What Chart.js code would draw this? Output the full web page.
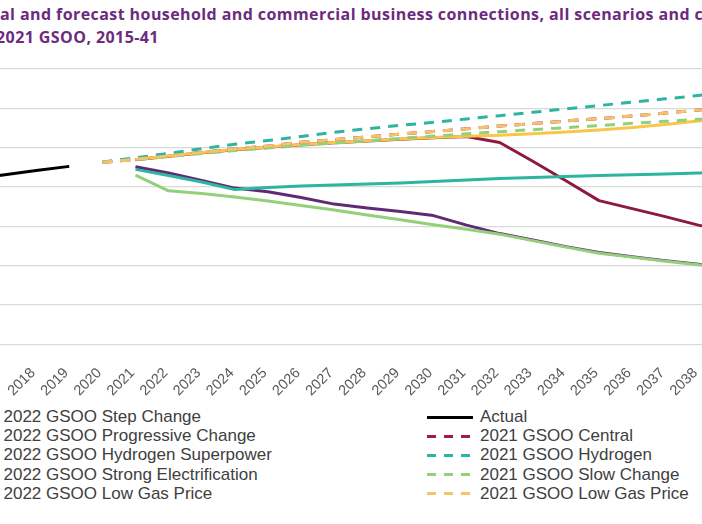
<!DOCTYPE html>
<html><head><meta charset="utf-8">
<script src="https://cdn.jsdelivr.net/npm/chart.js@4.4.1/dist/chart.umd.min.js"></script>
<style>
html,body{margin:0;padding:0;width:702px;height:524px;overflow:hidden;background:#fff;}
body{position:relative;}
.title{position:absolute;white-space:nowrap;font-family:"Open Sans",sans-serif;font-weight:700;font-size:16px;line-height:23px;color:#6C2B7E;}
#wrap{position:absolute;left:-150px;top:0;width:980px;height:405px;}
.item{position:absolute;font-family:"Liberation Sans",Arial,sans-serif;font-size:17px;line-height:20px;color:#404040;white-space:nowrap;}
.mk{position:absolute;height:3px;width:46px;}
</style></head>
<body>
<div class="title" id="t1" style="top:3px;left:0"><span id="hid">Actu</span><span id="vis">al and forecast household and commercial business connections, all scenarios and</span> compared to</div>
<div class="title" id="t2" style="top:26px;left:-4px"><span id="vis2">2021 GSOO, 2015-41</span></div>
<div id="wrap"><canvas id="c"></canvas></div>
<div id="legend"></div>
<script>
// Category labels
const years = ['2015','2016','2017','2018','2019','2020','2021','2022','2023','2024','2025','2026','2027','2028','2029','2030','2031','2032','2033','2034','2035','2036','2037','2038','2039','2040','2041'];
// Values in thousands of connections
const actual = [4100,4200,4305,4419,4526];               // 2015-2019
const step2022 = [4516,4356,4165,3974,3880,3733,3567,3466,3377,3275,3034,2818,2653,2487,2335,2232,2131,2042,1953,1876,1800]; // 2021-2041
const progressive2022 = [4694,4783,4872,4948,5012,5075,5126,5172,5215,5253,5283,5131,4655,4160,3656,3453,3249,3033,2855,2703,2550];
const hydrogenSuper2022 = [4449,4292,4127,3936,3987,4025,4050,4076,4101,4139,4177,4216,4241,4266,4292,4310,4330,4355,4373,4391,4406];
const strongElec2022 = [4304,3905,3834,3745,3644,3529,3415,3293,3168,3043,2927,2804,2639,2474,2321,2220,2118,2029,1940,1864,1787];
const lowGas2022 = [4699,4788,4877,4953,5017,5080,5131,5177,5220,5258,5289,5317,5352,5398,5449,5512,5588,5678,5767,5856,5945];
const central2021 = [4628,4704,4793,4882,4971,5042,5139,5207,5276,5345,5413,5482,5550,5614,5678,5741,5805,5881,5957,6033,6110,6186]; // 2020-2041
const hydrogen2021 = [4635,4742,4856,4976,5088,5182,5283,5393,5482,5568,5647,5731,5815,5901,5985,6072,6156,6242,6326,6410,6494,6578];
const slow2021 = [4628,4699,4775,4851,4927,4991,5060,5118,5177,5238,5296,5352,5408,5459,5510,5563,5619,5670,5721,5772,5823,5873];
const lowGas2021 = [4628,4704,4793,4882,4971,5042,5139,5207,5276,5345,5413,5482,5550,5614,5678,5741,5805,5881,5957,6033,6110,6186];
const yTicks = [0,1000,2000,3000,4000,5000,6000,7000];

function pad(startYear, arr){
  const out = years.map(()=>null);
  const s = years.indexOf(String(startYear));
  arr.forEach((v,i)=>{ out[s+i]=v; });
  return out;
}
const DASH=[10,8];
const series = [
  {label:'2022 GSOO Step Change', start:2021, vals:step2022, color:'#5F2A73', dash:false},
  {label:'2022 GSOO Progressive Change', start:2021, vals:progressive2022, color:'#8C1B3E', dash:false},
  {label:'2022 GSOO Hydrogen Superpower', start:2021, vals:hydrogenSuper2022, color:'#2DB5A0', dash:false},
  {label:'2022 GSOO Strong Electrification', start:2021, vals:strongElec2022, color:'#94D07A', dash:false},
  {label:'2022 GSOO Low Gas Price', start:2021, vals:lowGas2022, color:'#F7C64A', dash:false},
  {label:'Actual', start:2015, vals:actual, color:'#000000', dash:false},
  {label:'2021 GSOO Central', start:2020, vals:central2021, color:'#A01E45', dash:true},
  {label:'2021 GSOO Hydrogen', start:2020, vals:hydrogen2021, color:'#2DB5A0', dash:true},
  {label:'2021 GSOO Slow Change', start:2020, vals:slow2021, color:'#94D07A', dash:true},
  {label:'2021 GSOO Low Gas Price', start:2020, vals:lowGas2021, color:'#F6C26C', dash:true}
];
const N = series.length;
const datasets = series.map((s,i)=>({
  label:s.label,
  data:pad(s.start,s.vals),
  borderColor:s.color,
  backgroundColor:s.color,
  borderWidth:3,
  borderDash:s.dash?DASH:[],
  borderCapStyle:'butt',
  borderJoinStyle:'round',
  pointRadius:0,
  fill:false,
  tension:0,
  order:N-i
}));

new Chart(document.getElementById('c'), {
  type:'line',
  data:{labels:years, datasets},
  options:{
    responsive:true, maintainAspectRatio:false, animation:false,
    layout:{padding:{left:26.8,right:24.8,top:69,bottom:0}},
    plugins:{legend:{display:false},tooltip:{enabled:false},title:{display:false}},
    scales:{
      x:{type:'category', offset:false,
         grid:{display:false, drawTicks:false}, border:{display:false},
         ticks:{autoSkip:false,maxRotation:45,minRotation:45,color:'#595959',padding:20,labelOffset:-3,
                font:{family:'Liberation Sans',size:14.5}},
         afterFit(s){ s.height=60.5; }},
      y:{min:0,max:7000,
         afterBuildTicks(s){ s.ticks = yTicks.map(v=>({value:v})); },
         ticks:{color:'#595959',font:{family:'Liberation Sans',size:13},
                callback:v=>v.toLocaleString('en-US')},
         grid:{color:'#D9D9D9',lineWidth:1.3,drawTicks:false}, border:{display:false},
         afterFit(s){ s.width=60; }}
    }
  }
});

// Title: fit visible span widths to the reference, then crop "Actu" off the left edge
function fitTitle(){
  const t1 = document.getElementById('t1'), t2 = document.getElementById('t2');
  const vis = document.getElementById('vis');
  const txt = vis.textContent;
  const w0 = vis.getBoundingClientRect().width;
  const ls = (690 - w0) / txt.length;
  t1.style.letterSpacing = ls + 'px';
  t2.style.letterSpacing = ls + 'px';
  t1.style.left = (-document.getElementById('hid').getBoundingClientRect().width) + 'px';
}
fitTitle();
if (document.fonts && document.fonts.ready) document.fonts.ready.then(()=>{
  document.getElementById('t1').style.letterSpacing='0px';
  document.getElementById('t2').style.letterSpacing='0px';
  fitTitle();
});

// Two-column legend
const legend = document.getElementById('legend');
const rowY = [417,436,455,474.5,493.5];
const cols = [{mx:-48, tx:3.5},{mx:427, tx:480}];
series.forEach((s,i)=>{
  const col = i<5 ? cols[0] : cols[1];
  const r = i<5 ? i : i-5;
  const mk = document.createElement('div');
  mk.className='mk';
  mk.style.left = col.mx+'px';
  mk.style.top = (rowY[r]-1.5)+'px';
  mk.style.background = s.dash
    ? `repeating-linear-gradient(to right, ${s.color} 0 9px, transparent 9px 17px)`
    : s.color;
  legend.appendChild(mk);
  const tx = document.createElement('div');
  tx.className='item';
  tx.style.left = col.tx+'px';
  tx.style.top = (rowY[r]-10)+'px';
  tx.textContent = s.label;
  legend.appendChild(tx);
});
</script>
</body></html>
